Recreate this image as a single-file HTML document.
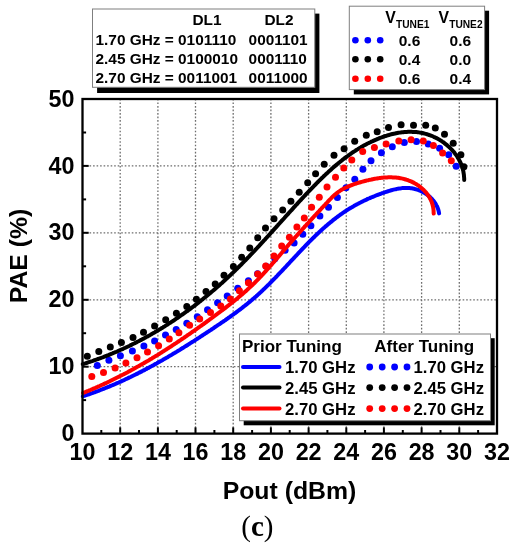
<!DOCTYPE html>
<html><head><meta charset="utf-8"><title>PAE vs Pout</title>
<style>html,body{margin:0;padding:0;background:#fff}svg{display:block}</style></head>
<body>
<svg width="518" height="550" viewBox="0 0 518 550">
<rect width="518" height="550" fill="#fff"/>
<g stroke="#6e6e6e" stroke-width="1.3" stroke-dasharray="1.6 1.92" fill="none">
<line x1="120.2" y1="99.0" x2="120.2" y2="433.6"/>
<line x1="157.9" y1="99.0" x2="157.9" y2="433.6"/>
<line x1="195.5" y1="99.0" x2="195.5" y2="433.6"/>
<line x1="233.2" y1="99.0" x2="233.2" y2="433.6"/>
<line x1="270.9" y1="99.0" x2="270.9" y2="433.6"/>
<line x1="308.6" y1="99.0" x2="308.6" y2="433.6"/>
<line x1="346.3" y1="99.0" x2="346.3" y2="433.6"/>
<line x1="383.9" y1="99.0" x2="383.9" y2="433.6"/>
<line x1="421.6" y1="99.0" x2="421.6" y2="433.6"/>
<line x1="459.3" y1="99.0" x2="459.3" y2="433.6"/>
<line x1="82.5" y1="366.7" x2="497.0" y2="366.7"/>
<line x1="82.5" y1="299.8" x2="497.0" y2="299.8"/>
<line x1="82.5" y1="232.8" x2="497.0" y2="232.8"/>
<line x1="82.5" y1="165.9" x2="497.0" y2="165.9"/>
</g>
<path d="M82.9,396.3 L84.0,395.9 L85.0,395.6 L86.1,395.2 L87.1,394.9 L88.1,394.5 L89.2,394.2 L90.2,393.8 L91.3,393.4 L92.3,393.1 L93.3,392.7 L94.4,392.3 L95.4,392.0 L96.4,391.6 L97.4,391.2 L98.5,390.8 L99.5,390.4 L100.5,390.0 L101.5,389.6 L102.6,389.2 L103.6,388.8 L104.6,388.4 L105.6,388.0 L106.6,387.6 L107.6,387.2 L108.6,386.8 L109.7,386.4 L110.7,385.9 L111.7,385.5 L112.7,385.1 L113.7,384.7 L114.7,384.2 L115.7,383.8 L116.7,383.3 L117.7,382.9 L118.7,382.5 L119.7,382.0 L120.7,381.6 L121.7,381.1 L122.7,380.7 L123.7,380.2 L124.6,379.8 L125.6,379.3 L126.6,378.8 L127.6,378.4 L128.6,377.9 L129.6,377.4 L130.6,377.0 L131.5,376.5 L132.5,376.0 L133.5,375.5 L134.5,375.0 L135.5,374.6 L136.4,374.1 L137.4,373.6 L138.4,373.1 L139.3,372.6 L140.3,372.1 L141.3,371.6 L142.3,371.1 L143.2,370.6 L144.2,370.1 L145.2,369.6 L146.1,369.1 L147.1,368.6 L148.0,368.1 L149.0,367.6 L150.0,367.0 L150.9,366.5 L151.9,366.0 L152.8,365.5 L153.8,365.0 L154.7,364.4 L155.7,363.9 L156.6,363.4 L157.6,362.8 L158.6,362.3 L159.5,361.8 L160.4,361.2 L161.4,360.7 L162.3,360.2 L163.3,359.6 L164.2,359.1 L165.2,358.5 L166.1,358.0 L167.1,357.4 L168.0,356.9 L168.9,356.3 L169.9,355.8 L170.8,355.2 L171.8,354.7 L172.7,354.1 L173.6,353.5 L174.6,353.0 L175.5,352.4 L176.4,351.9 L177.4,351.3 L178.3,350.7 L179.2,350.2 L180.2,349.6 L181.1,349.0 L182.0,348.4 L183.0,347.9 L183.9,347.3 L184.8,346.7 L185.7,346.1 L186.7,345.6 L187.6,345.0 L188.5,344.4 L189.5,343.8 L190.4,343.2 L191.3,342.6 L192.2,342.0 L193.1,341.5 L194.1,340.9 L195.0,340.3 L195.9,339.7 L196.8,339.1 L197.7,338.5 L198.7,337.9 L199.6,337.3 L200.5,336.7 L201.4,336.1 L202.3,335.5 L203.2,334.9 L204.2,334.3 L205.1,333.7 L206.0,333.1 L206.9,332.5 L207.8,331.9 L208.7,331.3 L209.6,330.7 L210.6,330.1 L211.5,329.5 L212.4,328.9 L213.3,328.3 L214.2,327.6 L215.1,327.0 L216.0,326.4 L216.9,325.8 L217.8,325.2 L218.7,324.6 L219.7,324.0 L220.6,323.4 L221.5,322.7 L222.4,322.1 L223.3,321.5 L224.2,320.9 L225.1,320.3 L226.0,319.6 L226.9,319.0 L227.8,318.4 L228.7,317.7 L229.6,317.1 L230.5,316.5 L231.3,315.8 L232.2,315.2 L233.1,314.6 L234.0,313.9 L234.9,313.3 L235.8,312.6 L236.7,312.0 L237.5,311.3 L238.4,310.7 L239.3,310.0 L240.2,309.4 L241.0,308.7 L241.9,308.1 L242.7,307.4 L243.6,306.7 L244.5,306.0 L245.3,305.4 L246.2,304.7 L247.0,304.0 L247.9,303.3 L248.7,302.6 L249.6,301.9 L250.4,301.2 L251.2,300.5 L252.1,299.8 L252.9,299.1 L253.7,298.4 L254.5,297.7 L255.3,297.0 L256.2,296.3 L257.0,295.6 L257.8,294.8 L258.6,294.1 L259.4,293.4 L260.2,292.6 L261.0,291.9 L261.8,291.1 L262.6,290.4 L263.3,289.7 L264.1,288.9 L264.9,288.2 L265.7,287.4 L266.5,286.6 L267.2,285.9 L268.0,285.1 L268.8,284.4 L269.6,283.6 L270.3,282.8 L271.1,282.0 L271.9,281.3 L272.6,280.5 L273.4,279.7 L274.1,278.9 L274.9,278.2 L275.7,277.4 L276.4,276.6 L277.2,275.8 L277.9,275.0 L278.7,274.2 L279.4,273.4 L280.2,272.6 L280.9,271.9 L281.7,271.1 L282.4,270.3 L283.2,269.5 L283.9,268.7 L284.7,267.9 L285.4,267.1 L286.2,266.3 L286.9,265.5 L287.7,264.7 L288.4,263.9 L289.2,263.1 L289.9,262.3 L290.6,261.5 L291.4,260.7 L292.1,259.9 L292.9,259.1 L293.6,258.3 L294.4,257.5 L295.1,256.7 L295.9,255.9 L296.6,255.1 L297.4,254.3 L298.1,253.5 L298.9,252.7 L299.6,251.9 L300.4,251.1 L301.1,250.3 L301.9,249.5 L302.7,248.7 L303.4,247.9 L304.2,247.1 L304.9,246.3 L305.7,245.5 L306.5,244.7 L307.2,244.0 L308.0,243.2 L308.7,242.4 L309.5,241.6 L310.3,240.8 L311.1,240.1 L311.8,239.3 L312.6,238.5 L313.4,237.8 L314.2,237.0 L315.0,236.2 L315.7,235.5 L316.5,234.7 L317.3,234.0 L318.1,233.2 L318.9,232.5 L319.7,231.7 L320.5,231.0 L321.3,230.3 L322.1,229.5 L322.9,228.8 L323.7,228.1 L324.5,227.4 L325.3,226.6 L326.2,225.9 L327.0,225.2 L327.8,224.5 L328.6,223.8 L329.5,223.1 L330.3,222.4 L331.1,221.8 L332.0,221.1 L332.8,220.4 L333.7,219.7 L334.5,219.1 L335.4,218.4 L336.2,217.7 L337.1,217.1 L338.0,216.4 L338.8,215.8 L339.7,215.2 L340.6,214.5 L341.5,213.9 L342.3,213.3 L343.2,212.7 L344.1,212.1 L345.0,211.5 L345.9,210.9 L346.8,210.3 L347.7,209.7 L348.7,209.1 L349.6,208.6 L350.5,208.0 L351.4,207.5 L352.4,206.9 L353.3,206.4 L354.3,205.8 L355.2,205.3 L356.1,204.8 L357.1,204.2 L358.1,203.7 L359.0,203.2 L360.0,202.7 L361.0,202.2 L361.9,201.7 L362.9,201.3 L363.9,200.8 L364.9,200.3 L365.9,199.9 L366.8,199.4 L367.8,198.9 L368.8,198.5 L369.8,198.1 L370.8,197.6 L371.9,197.2 L372.9,196.8 L373.9,196.4 L374.9,196.0 L375.9,195.5 L376.9,195.1 L378.0,194.8 L379.0,194.4 L380.0,194.0 L381.1,193.6 L382.1,193.2 L383.1,192.9 L384.2,192.5 L385.2,192.2 L386.3,191.8 L387.3,191.5 L388.4,191.1 L389.4,190.8 L390.5,190.5 L391.5,190.2 L392.6,189.9 L393.7,189.6 L394.7,189.4 L395.8,189.2 L396.9,188.9 L397.9,188.7 L399.0,188.6 L400.0,188.4 L401.1,188.3 L402.2,188.1 L403.2,188.0 L404.3,188.0 L405.4,187.9 L406.4,187.9 L407.5,187.9 L408.6,188.0 L409.6,188.1 L410.7,188.2 L411.7,188.3 L412.8,188.5 L413.9,188.7 L414.9,189.0 L416.0,189.3 L417.0,189.6 L418.0,189.9 L419.1,190.3 L420.1,190.7 L421.1,191.2 L422.1,191.7 L423.1,192.2 L424.1,192.7 L425.0,193.3 L425.9,193.9 L426.9,194.5 L427.8,195.2 L428.6,195.9 L429.5,196.6 L430.3,197.3 L431.1,198.1 L431.9,198.9 L432.6,199.7 L433.3,200.5 L434.0,201.4 L434.6,202.3 L435.2,203.2 L435.8,204.1 L436.3,205.1 L436.8,206.0 L437.3,207.0 L437.7,208.0 L438.1,209.1 L438.4,210.1 L438.7,211.2 L438.9,212.3 L439.1,213.4" stroke="#0000ff" fill="none" stroke-width="4" stroke-linejoin="round" stroke-linecap="round"/>
<g fill="#0000ff">
<circle cx="97.3" cy="365.4" r="3.5"/>
<circle cx="108.9" cy="360.2" r="3.5"/>
<circle cx="120.4" cy="355.8" r="3.5"/>
<circle cx="132.4" cy="351.1" r="3.5"/>
<circle cx="143.9" cy="346.1" r="3.5"/>
<circle cx="154.6" cy="341.0" r="3.5"/>
<circle cx="165.5" cy="335.0" r="3.5"/>
<circle cx="176.2" cy="329.6" r="3.5"/>
<circle cx="186.8" cy="323.3" r="3.5"/>
<circle cx="197.3" cy="316.7" r="3.5"/>
<circle cx="207.5" cy="309.8" r="3.5"/>
<circle cx="217.6" cy="302.7" r="3.5"/>
<circle cx="227.2" cy="296.0" r="3.5"/>
<circle cx="237.7" cy="288.3" r="3.5"/>
<circle cx="248.4" cy="280.8" r="3.5"/>
<circle cx="257.5" cy="273.7" r="3.5"/>
<circle cx="266.1" cy="266.3" r="3.5"/>
<circle cx="274.8" cy="258.7" r="3.5"/>
<circle cx="285.1" cy="250.3" r="3.5"/>
<circle cx="294.1" cy="243.0" r="3.5"/>
<circle cx="302.8" cy="234.3" r="3.5"/>
<circle cx="310.9" cy="225.7" r="3.5"/>
<circle cx="319.9" cy="216.0" r="3.5"/>
<circle cx="328.5" cy="207.2" r="3.5"/>
<circle cx="337.4" cy="197.5" r="3.5"/>
<circle cx="346.0" cy="187.7" r="3.5"/>
<circle cx="354.8" cy="179.3" r="3.5"/>
<circle cx="362.9" cy="169.3" r="3.5"/>
<circle cx="371.0" cy="160.7" r="3.5"/>
<circle cx="381.4" cy="152.7" r="3.5"/>
<circle cx="392.3" cy="146.7" r="3.5"/>
<circle cx="404.3" cy="142.4" r="3.5"/>
<circle cx="416.5" cy="141.6" r="3.5"/>
<circle cx="428.2" cy="144.0" r="3.5"/>
<circle cx="439.6" cy="148.2" r="3.5"/>
<circle cx="448.7" cy="154.7" r="3.5"/>
<circle cx="456.2" cy="166.2" r="3.5"/>
</g>
<path d="M82.8,364.1 L84.0,363.7 L85.2,363.4 L86.4,363.0 L87.5,362.6 L88.7,362.2 L89.9,361.8 L91.1,361.4 L92.2,361.1 L93.4,360.7 L94.6,360.2 L95.7,359.8 L96.9,359.4 L98.0,359.0 L99.2,358.6 L100.4,358.2 L101.5,357.7 L102.7,357.3 L103.8,356.9 L105.0,356.4 L106.1,356.0 L107.2,355.5 L108.4,355.1 L109.5,354.6 L110.7,354.1 L111.8,353.7 L112.9,353.2 L114.1,352.7 L115.2,352.2 L116.3,351.8 L117.5,351.3 L118.6,350.8 L119.7,350.3 L120.8,349.8 L121.9,349.3 L123.1,348.8 L124.2,348.3 L125.3,347.8 L126.4,347.2 L127.5,346.7 L128.6,346.2 L129.7,345.7 L130.8,345.1 L131.9,344.6 L133.0,344.0 L134.1,343.5 L135.2,342.9 L136.3,342.4 L137.4,341.8 L138.5,341.3 L139.6,340.7 L140.7,340.1 L141.7,339.6 L142.8,339.0 L143.9,338.4 L145.0,337.8 L146.0,337.2 L147.1,336.6 L148.2,336.1 L149.3,335.5 L150.3,334.9 L151.4,334.2 L152.5,333.6 L153.5,333.0 L154.6,332.4 L155.6,331.8 L156.7,331.2 L157.7,330.5 L158.8,329.9 L159.8,329.3 L160.9,328.7 L161.9,328.0 L163.0,327.4 L164.0,326.7 L165.0,326.1 L166.1,325.4 L167.1,324.8 L168.1,324.1 L169.2,323.4 L170.2,322.8 L171.2,322.1 L172.2,321.4 L173.3,320.8 L174.3,320.1 L175.3,319.4 L176.3,318.7 L177.3,318.0 L178.3,317.3 L179.3,316.6 L180.3,315.9 L181.3,315.2 L182.3,314.5 L183.3,313.8 L184.3,313.1 L185.3,312.4 L186.3,311.7 L187.3,311.0 L188.3,310.3 L189.3,309.5 L190.3,308.8 L191.3,308.1 L192.2,307.3 L193.2,306.6 L194.2,305.9 L195.2,305.1 L196.1,304.4 L197.1,303.6 L198.1,302.9 L199.0,302.1 L200.0,301.4 L201.0,300.6 L201.9,299.8 L202.9,299.1 L203.8,298.3 L204.8,297.5 L205.7,296.8 L206.7,296.0 L207.6,295.2 L208.6,294.4 L209.5,293.6 L210.5,292.9 L211.4,292.1 L212.3,291.3 L213.3,290.5 L214.2,289.7 L215.1,288.9 L216.0,288.1 L217.0,287.3 L217.9,286.5 L218.8,285.7 L219.7,284.9 L220.6,284.0 L221.6,283.2 L222.5,282.4 L223.4,281.6 L224.3,280.8 L225.2,279.9 L226.1,279.1 L227.0,278.3 L227.9,277.4 L228.8,276.6 L229.7,275.8 L230.6,274.9 L231.4,274.1 L232.3,273.2 L233.2,272.4 L234.1,271.5 L235.0,270.7 L235.8,269.8 L236.7,269.0 L237.6,268.1 L238.5,267.3 L239.3,266.4 L240.2,265.5 L241.1,264.7 L241.9,263.8 L242.8,262.9 L243.6,262.1 L244.5,261.2 L245.4,260.3 L246.2,259.4 L247.1,258.6 L247.9,257.7 L248.8,256.8 L249.6,255.9 L250.5,255.0 L251.3,254.1 L252.1,253.3 L253.0,252.4 L253.8,251.5 L254.7,250.6 L255.5,249.7 L256.3,248.8 L257.2,247.9 L258.0,247.0 L258.9,246.1 L259.7,245.2 L260.5,244.3 L261.3,243.4 L262.2,242.5 L263.0,241.6 L263.8,240.7 L264.7,239.8 L265.5,238.9 L266.3,238.0 L267.1,237.1 L268.0,236.2 L268.8,235.3 L269.6,234.4 L270.4,233.4 L271.3,232.5 L272.1,231.6 L272.9,230.7 L273.7,229.8 L274.5,228.9 L275.4,228.0 L276.2,227.1 L277.0,226.2 L277.8,225.3 L278.6,224.3 L279.5,223.4 L280.3,222.5 L281.1,221.6 L281.9,220.7 L282.7,219.8 L283.6,218.9 L284.4,218.0 L285.2,217.0 L286.0,216.1 L286.9,215.2 L287.7,214.3 L288.5,213.4 L289.3,212.5 L290.1,211.6 L291.0,210.7 L291.8,209.8 L292.6,208.9 L293.4,207.9 L294.3,207.0 L295.1,206.1 L295.9,205.2 L296.8,204.3 L297.6,203.4 L298.4,202.5 L299.2,201.6 L300.1,200.7 L300.9,199.8 L301.7,198.9 L302.6,198.0 L303.4,197.1 L304.3,196.2 L305.1,195.3 L305.9,194.4 L306.8,193.5 L307.6,192.6 L308.5,191.7 L309.3,190.8 L310.2,190.0 L311.0,189.1 L311.9,188.2 L312.7,187.3 L313.6,186.4 L314.4,185.5 L315.3,184.7 L316.1,183.8 L317.0,182.9 L317.9,182.0 L318.7,181.2 L319.6,180.3 L320.5,179.4 L321.4,178.6 L322.2,177.7 L323.1,176.9 L324.0,176.0 L324.9,175.2 L325.8,174.3 L326.7,173.5 L327.6,172.7 L328.5,171.8 L329.4,171.0 L330.3,170.2 L331.2,169.4 L332.1,168.6 L333.0,167.7 L333.9,166.9 L334.9,166.1 L335.8,165.4 L336.7,164.6 L337.7,163.8 L338.6,163.0 L339.6,162.2 L340.5,161.5 L341.5,160.7 L342.4,159.9 L343.4,159.2 L344.4,158.4 L345.3,157.7 L346.3,157.0 L347.3,156.3 L348.3,155.5 L349.3,154.8 L350.3,154.1 L351.3,153.4 L352.3,152.7 L353.3,152.0 L354.3,151.4 L355.4,150.7 L356.4,150.0 L357.4,149.4 L358.5,148.7 L359.5,148.1 L360.6,147.5 L361.7,146.8 L362.7,146.2 L363.8,145.6 L364.9,145.0 L366.0,144.4 L367.1,143.8 L368.2,143.3 L369.3,142.7 L370.4,142.2 L371.5,141.6 L372.7,141.1 L373.8,140.6 L374.9,140.1 L376.1,139.6 L377.2,139.1 L378.4,138.6 L379.5,138.1 L380.7,137.7 L381.9,137.3 L383.0,136.8 L384.2,136.4 L385.4,136.0 L386.6,135.7 L387.7,135.3 L388.9,135.0 L390.1,134.6 L391.3,134.3 L392.5,134.0 L393.7,133.7 L394.9,133.5 L396.1,133.2 L397.3,133.0 L398.4,132.8 L399.6,132.6 L400.8,132.4 L402.0,132.3 L403.2,132.2 L404.4,132.0 L405.6,132.0 L406.8,131.9 L408.0,131.8 L409.2,131.8 L410.4,131.8 L411.6,131.8 L412.8,131.9 L414.0,131.9 L415.2,132.0 L416.4,132.1 L417.6,132.2 L418.7,132.4 L419.9,132.6 L421.1,132.8 L422.3,133.0 L423.4,133.3 L424.6,133.6 L425.8,133.9 L426.9,134.2 L428.1,134.6 L429.2,135.0 L430.4,135.4 L431.5,135.8 L432.6,136.3 L433.7,136.8 L434.9,137.3 L436.0,137.9 L437.1,138.4 L438.1,139.0 L439.2,139.6 L440.3,140.3 L441.3,140.9 L442.3,141.6 L443.4,142.3 L444.4,143.1 L445.3,143.8 L446.3,144.6 L447.3,145.4 L448.2,146.2 L449.1,147.0 L450.0,147.9 L450.9,148.8 L451.7,149.6 L452.6,150.6 L453.4,151.5 L454.2,152.4 L454.9,153.4 L455.7,154.4 L456.4,155.4 L457.1,156.4 L457.7,157.5 L458.4,158.5 L459.0,159.6 L459.5,160.7 L460.1,161.8 L460.6,162.9 L461.1,164.0 L461.5,165.2 L462.0,166.3 L462.3,167.5 L462.7,168.7 L463.0,169.9 L463.3,171.1 L463.5,172.3 L463.7,173.6 L463.9,174.8 L464.0,176.1 L464.1,177.3 L464.2,178.6 L464.2,179.9" stroke="#000" fill="none" stroke-width="4" stroke-linejoin="round" stroke-linecap="round"/>
<g fill="#000">
<circle cx="87.3" cy="356.3" r="3.5"/>
<circle cx="98.8" cy="351.5" r="3.5"/>
<circle cx="110.3" cy="347.1" r="3.5"/>
<circle cx="121.4" cy="342.4" r="3.5"/>
<circle cx="133.0" cy="337.4" r="3.5"/>
<circle cx="143.5" cy="332.2" r="3.5"/>
<circle cx="154.6" cy="326.0" r="3.5"/>
<circle cx="165.7" cy="319.7" r="3.5"/>
<circle cx="176.4" cy="313.3" r="3.5"/>
<circle cx="186.8" cy="306.4" r="3.5"/>
<circle cx="196.4" cy="299.3" r="3.5"/>
<circle cx="206.0" cy="291.5" r="3.5"/>
<circle cx="215.2" cy="284.0" r="3.5"/>
<circle cx="224.0" cy="275.3" r="3.5"/>
<circle cx="233.4" cy="266.4" r="3.5"/>
<circle cx="241.7" cy="257.3" r="3.5"/>
<circle cx="249.8" cy="248.0" r="3.5"/>
<circle cx="257.7" cy="237.7" r="3.5"/>
<circle cx="265.5" cy="228.0" r="3.5"/>
<circle cx="274.0" cy="218.7" r="3.5"/>
<circle cx="282.7" cy="210.0" r="3.5"/>
<circle cx="290.9" cy="201.3" r="3.5"/>
<circle cx="299.2" cy="192.3" r="3.5"/>
<circle cx="307.7" cy="182.7" r="3.5"/>
<circle cx="315.6" cy="173.7" r="3.5"/>
<circle cx="324.2" cy="164.3" r="3.5"/>
<circle cx="334.0" cy="155.3" r="3.5"/>
<circle cx="344.1" cy="148.7" r="3.5"/>
<circle cx="354.7" cy="141.3" r="3.5"/>
<circle cx="366.3" cy="135.3" r="3.5"/>
<circle cx="377.2" cy="131.7" r="3.5"/>
<circle cx="388.5" cy="127.5" r="3.5"/>
<circle cx="401.1" cy="124.7" r="3.5"/>
<circle cx="413.5" cy="125.3" r="3.5"/>
<circle cx="425.7" cy="125.3" r="3.5"/>
<circle cx="435.3" cy="128.0" r="3.5"/>
<circle cx="444.5" cy="134.3" r="3.5"/>
<circle cx="453.2" cy="143.3" r="3.5"/>
<circle cx="460.9" cy="154.7" r="3.5"/>
<circle cx="463.9" cy="166.7" r="3.5"/>
</g>
<path d="M83.1,392.9 L84.1,392.5 L85.2,392.1 L86.2,391.7 L87.2,391.2 L88.3,390.8 L89.3,390.4 L90.3,390.0 L91.4,389.5 L92.4,389.1 L93.4,388.6 L94.5,388.2 L95.5,387.8 L96.5,387.3 L97.5,386.9 L98.6,386.4 L99.6,386.0 L100.6,385.5 L101.6,385.0 L102.6,384.6 L103.7,384.1 L104.7,383.6 L105.7,383.2 L106.7,382.7 L107.7,382.2 L108.7,381.7 L109.7,381.3 L110.7,380.8 L111.7,380.3 L112.7,379.8 L113.7,379.3 L114.7,378.8 L115.7,378.3 L116.7,377.8 L117.7,377.3 L118.7,376.8 L119.7,376.3 L120.7,375.8 L121.7,375.3 L122.7,374.8 L123.7,374.3 L124.7,373.7 L125.7,373.2 L126.7,372.7 L127.7,372.2 L128.6,371.6 L129.6,371.1 L130.6,370.6 L131.6,370.0 L132.6,369.5 L133.5,369.0 L134.5,368.4 L135.5,367.9 L136.5,367.3 L137.4,366.8 L138.4,366.3 L139.4,365.7 L140.4,365.1 L141.3,364.6 L142.3,364.0 L143.3,363.5 L144.2,362.9 L145.2,362.4 L146.2,361.8 L147.1,361.2 L148.1,360.7 L149.1,360.1 L150.0,359.5 L151.0,358.9 L151.9,358.4 L152.9,357.8 L153.8,357.2 L154.8,356.6 L155.8,356.0 L156.7,355.5 L157.7,354.9 L158.6,354.3 L159.6,353.7 L160.5,353.1 L161.5,352.5 L162.4,351.9 L163.3,351.3 L164.3,350.7 L165.2,350.1 L166.2,349.5 L167.1,348.9 L168.1,348.3 L169.0,347.7 L169.9,347.1 L170.9,346.5 L171.8,345.9 L172.8,345.2 L173.7,344.6 L174.6,344.0 L175.6,343.4 L176.5,342.8 L177.4,342.2 L178.4,341.5 L179.3,340.9 L180.2,340.3 L181.1,339.7 L182.1,339.0 L183.0,338.4 L183.9,337.8 L184.8,337.1 L185.8,336.5 L186.7,335.9 L187.6,335.2 L188.5,334.6 L189.5,334.0 L190.4,333.3 L191.3,332.7 L192.2,332.0 L193.1,331.4 L194.1,330.8 L195.0,330.1 L195.9,329.5 L196.8,328.8 L197.7,328.2 L198.6,327.5 L199.5,326.9 L200.5,326.2 L201.4,325.6 L202.3,324.9 L203.2,324.3 L204.1,323.6 L205.0,323.0 L205.9,322.3 L206.8,321.6 L207.7,321.0 L208.6,320.3 L209.5,319.7 L210.4,319.0 L211.3,318.3 L212.2,317.7 L213.1,317.0 L214.0,316.3 L214.9,315.7 L215.8,315.0 L216.7,314.3 L217.6,313.7 L218.5,313.0 L219.4,312.3 L220.3,311.7 L221.2,311.0 L222.1,310.3 L223.0,309.6 L223.9,309.0 L224.8,308.3 L225.7,307.6 L226.6,306.9 L227.5,306.2 L228.3,305.5 L229.2,304.9 L230.1,304.2 L231.0,303.5 L231.8,302.8 L232.7,302.1 L233.6,301.4 L234.5,300.7 L235.3,300.0 L236.2,299.3 L237.1,298.6 L237.9,297.9 L238.8,297.1 L239.6,296.4 L240.5,295.7 L241.3,295.0 L242.2,294.3 L243.0,293.5 L243.9,292.8 L244.7,292.1 L245.5,291.3 L246.4,290.6 L247.2,289.8 L248.0,289.1 L248.8,288.3 L249.6,287.6 L250.5,286.8 L251.3,286.1 L252.1,285.3 L252.9,284.5 L253.7,283.7 L254.5,283.0 L255.3,282.2 L256.0,281.4 L256.8,280.6 L257.6,279.8 L258.4,279.0 L259.2,278.2 L259.9,277.4 L260.7,276.6 L261.5,275.8 L262.2,275.0 L263.0,274.2 L263.7,273.3 L264.5,272.5 L265.3,271.7 L266.0,270.9 L266.8,270.0 L267.5,269.2 L268.3,268.4 L269.0,267.5 L269.7,266.7 L270.5,265.9 L271.2,265.0 L272.0,264.2 L272.7,263.3 L273.4,262.5 L274.2,261.7 L274.9,260.8 L275.6,260.0 L276.4,259.1 L277.1,258.3 L277.8,257.4 L278.6,256.6 L279.3,255.7 L280.0,254.9 L280.8,254.0 L281.5,253.1 L282.2,252.3 L282.9,251.4 L283.7,250.6 L284.4,249.7 L285.1,248.9 L285.9,248.0 L286.6,247.2 L287.3,246.3 L288.1,245.5 L288.8,244.6 L289.5,243.8 L290.3,242.9 L291.0,242.1 L291.8,241.2 L292.5,240.4 L293.2,239.5 L294.0,238.7 L294.7,237.8 L295.5,237.0 L296.2,236.2 L297.0,235.3 L297.7,234.5 L298.5,233.6 L299.2,232.8 L300.0,232.0 L300.7,231.1 L301.5,230.3 L302.2,229.5 L303.0,228.6 L303.7,227.8 L304.5,227.0 L305.2,226.1 L306.0,225.3 L306.8,224.5 L307.5,223.6 L308.3,222.8 L309.0,222.0 L309.8,221.1 L310.5,220.3 L311.3,219.5 L312.1,218.7 L312.8,217.8 L313.6,217.0 L314.3,216.2 L315.1,215.4 L315.9,214.6 L316.6,213.7 L317.4,212.9 L318.1,212.1 L318.9,211.3 L319.7,210.5 L320.4,209.6 L321.2,208.8 L321.9,208.0 L322.7,207.2 L323.5,206.4 L324.2,205.6 L325.0,204.8 L325.7,203.9 L326.5,203.1 L327.3,202.3 L328.0,201.5 L328.8,200.7 L329.5,199.9 L330.3,199.1 L331.1,198.3 L331.8,197.5 L332.6,196.8 L333.4,196.0 L334.2,195.3 L335.0,194.6 L335.9,193.9 L336.7,193.2 L337.6,192.5 L338.4,191.9 L339.3,191.3 L340.2,190.7 L341.1,190.1 L342.0,189.5 L343.0,189.0 L343.9,188.5 L344.9,188.0 L345.9,187.5 L346.9,187.1 L347.9,186.6 L348.9,186.2 L349.9,185.8 L350.9,185.4 L352.0,185.0 L353.0,184.6 L354.1,184.2 L355.1,183.9 L356.2,183.5 L357.2,183.2 L358.3,182.8 L359.4,182.5 L360.5,182.2 L361.6,181.9 L362.7,181.6 L363.8,181.3 L364.8,181.0 L365.9,180.7 L367.1,180.4 L368.2,180.2 L369.3,179.9 L370.4,179.7 L371.5,179.5 L372.6,179.2 L373.7,179.0 L374.8,178.8 L376.0,178.6 L377.1,178.5 L378.2,178.3 L379.3,178.1 L380.4,178.0 L381.6,177.8 L382.7,177.7 L383.8,177.6 L384.9,177.5 L386.0,177.5 L387.1,177.4 L388.3,177.3 L389.4,177.3 L390.5,177.3 L391.6,177.3 L392.7,177.4 L393.8,177.4 L394.9,177.5 L396.0,177.6 L397.1,177.7 L398.2,177.8 L399.3,178.0 L400.4,178.2 L401.5,178.4 L402.5,178.6 L403.6,178.9 L404.7,179.2 L405.8,179.5 L406.8,179.8 L407.9,180.2 L408.9,180.6 L410.0,181.0 L411.0,181.4 L412.0,181.9 L413.0,182.4 L414.0,182.9 L415.0,183.5 L416.0,184.0 L416.9,184.6 L417.9,185.2 L418.8,185.9 L419.7,186.5 L420.6,187.2 L421.4,187.9 L422.3,188.7 L423.1,189.4 L423.9,190.2 L424.6,191.0 L425.4,191.8 L426.1,192.6 L426.8,193.5 L427.5,194.4 L428.1,195.3 L428.7,196.2 L429.3,197.1 L429.8,198.1 L430.4,199.1 L430.8,200.1 L431.3,201.1 L431.7,202.1 L432.1,203.2 L432.4,204.3 L432.7,205.4 L433.0,206.5 L433.2,207.6 L433.4,208.8 L433.5,209.9 L433.6,211.1 L433.6,212.3 L433.7,213.5" stroke="#ff0000" fill="none" stroke-width="4" stroke-linejoin="round" stroke-linecap="round"/>
<g fill="#ff0000">
<circle cx="91.8" cy="376.6" r="3.5"/>
<circle cx="103.5" cy="372.4" r="3.5"/>
<circle cx="115.1" cy="367.9" r="3.5"/>
<circle cx="125.9" cy="363.1" r="3.5"/>
<circle cx="137.0" cy="357.7" r="3.5"/>
<circle cx="147.5" cy="351.9" r="3.5"/>
<circle cx="158.6" cy="345.7" r="3.5"/>
<circle cx="169.3" cy="339.0" r="3.5"/>
<circle cx="178.9" cy="332.7" r="3.5"/>
<circle cx="189.6" cy="325.3" r="3.5"/>
<circle cx="199.7" cy="319.1" r="3.5"/>
<circle cx="210.5" cy="312.4" r="3.5"/>
<circle cx="220.8" cy="306.0" r="3.5"/>
<circle cx="230.4" cy="299.0" r="3.5"/>
<circle cx="239.4" cy="290.7" r="3.5"/>
<circle cx="248.4" cy="282.7" r="3.5"/>
<circle cx="257.7" cy="274.0" r="3.5"/>
<circle cx="265.7" cy="266.0" r="3.5"/>
<circle cx="274.0" cy="256.0" r="3.5"/>
<circle cx="281.7" cy="246.0" r="3.5"/>
<circle cx="289.4" cy="237.3" r="3.5"/>
<circle cx="296.9" cy="227.0" r="3.5"/>
<circle cx="304.3" cy="218.0" r="3.5"/>
<circle cx="311.6" cy="207.3" r="3.5"/>
<circle cx="319.3" cy="197.3" r="3.5"/>
<circle cx="327.0" cy="186.9" r="3.5"/>
<circle cx="335.5" cy="177.3" r="3.5"/>
<circle cx="343.8" cy="168.0" r="3.5"/>
<circle cx="351.8" cy="160.0" r="3.5"/>
<circle cx="362.7" cy="151.6" r="3.5"/>
<circle cx="374.4" cy="147.5" r="3.5"/>
<circle cx="386.1" cy="144.0" r="3.5"/>
<circle cx="398.8" cy="141.1" r="3.5"/>
<circle cx="411.1" cy="139.7" r="3.5"/>
<circle cx="423.3" cy="141.1" r="3.5"/>
<circle cx="433.4" cy="145.5" r="3.5"/>
<circle cx="442.6" cy="153.0" r="3.5"/>
<circle cx="451.3" cy="160.8" r="3.5"/>
</g>
<rect x="82.5" y="99.0" width="414.5" height="334.6" fill="none" stroke="#000" stroke-width="2.3"/>
<g stroke="#000" stroke-width="2">
<line x1="101.3" y1="433.6" x2="101.3" y2="430.0"/>
<line x1="120.2" y1="433.6" x2="120.2" y2="427.4"/>
<line x1="139.0" y1="433.6" x2="139.0" y2="430.0"/>
<line x1="157.9" y1="433.6" x2="157.9" y2="427.4"/>
<line x1="176.7" y1="433.6" x2="176.7" y2="430.0"/>
<line x1="195.5" y1="433.6" x2="195.5" y2="427.4"/>
<line x1="214.4" y1="433.6" x2="214.4" y2="430.0"/>
<line x1="233.2" y1="433.6" x2="233.2" y2="427.4"/>
<line x1="252.1" y1="433.6" x2="252.1" y2="430.0"/>
<line x1="270.9" y1="433.6" x2="270.9" y2="427.4"/>
<line x1="289.7" y1="433.6" x2="289.7" y2="430.0"/>
<line x1="308.6" y1="433.6" x2="308.6" y2="427.4"/>
<line x1="327.4" y1="433.6" x2="327.4" y2="430.0"/>
<line x1="346.3" y1="433.6" x2="346.3" y2="427.4"/>
<line x1="365.1" y1="433.6" x2="365.1" y2="430.0"/>
<line x1="383.9" y1="433.6" x2="383.9" y2="427.4"/>
<line x1="402.8" y1="433.6" x2="402.8" y2="430.0"/>
<line x1="421.6" y1="433.6" x2="421.6" y2="427.4"/>
<line x1="440.5" y1="433.6" x2="440.5" y2="430.0"/>
<line x1="459.3" y1="433.6" x2="459.3" y2="427.4"/>
<line x1="478.1" y1="433.6" x2="478.1" y2="430.0"/>
<line x1="82.5" y1="400.1" x2="86.1" y2="400.1"/>
<line x1="82.5" y1="366.7" x2="88.7" y2="366.7"/>
<line x1="82.5" y1="333.2" x2="86.1" y2="333.2"/>
<line x1="82.5" y1="299.8" x2="88.7" y2="299.8"/>
<line x1="82.5" y1="266.3" x2="86.1" y2="266.3"/>
<line x1="82.5" y1="232.8" x2="88.7" y2="232.8"/>
<line x1="82.5" y1="199.4" x2="86.1" y2="199.4"/>
<line x1="82.5" y1="165.9" x2="88.7" y2="165.9"/>
<line x1="82.5" y1="132.5" x2="86.1" y2="132.5"/>
</g>
<g font-family="'Liberation Sans', Arial, sans-serif" font-weight="bold" font-size="23.3" fill="#000">
<text x="82.5" y="460" text-anchor="middle">10</text>
<text x="120.2" y="460" text-anchor="middle">12</text>
<text x="157.9" y="460" text-anchor="middle">14</text>
<text x="195.5" y="460" text-anchor="middle">16</text>
<text x="233.2" y="460" text-anchor="middle">18</text>
<text x="270.9" y="460" text-anchor="middle">20</text>
<text x="308.6" y="460" text-anchor="middle">22</text>
<text x="346.3" y="460" text-anchor="middle">24</text>
<text x="383.9" y="460" text-anchor="middle">26</text>
<text x="421.6" y="460" text-anchor="middle">28</text>
<text x="459.3" y="460" text-anchor="middle">30</text>
<text x="497.0" y="460" text-anchor="middle">32</text>
<text x="74.5" y="440.6" text-anchor="end">0</text>
<text x="74.5" y="373.9" text-anchor="end">10</text>
<text x="74.5" y="307.2" text-anchor="end">20</text>
<text x="74.5" y="240.4" text-anchor="end">30</text>
<text x="74.5" y="173.7" text-anchor="end">40</text>
<text x="74.5" y="107.0" text-anchor="end">50</text>
</g>
<g font-family="'Liberation Sans', Arial, sans-serif" font-weight="bold" font-size="24.8" fill="#000">
<text x="289.5" y="499.3" text-anchor="middle">Pout (dBm)</text>
<text transform="translate(26.6,256) rotate(-90)" text-anchor="middle">PAE (%)</text>
</g>
<text x="241.3" y="535.8" font-family="'Liberation Serif', serif" font-size="29" fill="#000">(<tspan font-weight="bold">c</tspan>)</text>
<rect x="243.7" y="338.2" width="251.0" height="87.09999999999998" fill="#000"/>
<rect x="239.5" y="334" width="251.0" height="86.69999999999999" fill="#fff" stroke="#7f7f7f" stroke-width="1"/>
<g font-family="'Liberation Sans', Arial, sans-serif" font-weight="bold" font-size="17" fill="#000">
<text x="242" y="352">Prior Tuning</text>
<text x="374.3" y="352">After Tuning</text>
<line x1="243" y1="367" x2="279.5" y2="367" stroke="#0000ff" stroke-width="4" stroke-linecap="round"/>
<text x="285" y="373" font-size="16.7">1.70 GHz</text>
<circle cx="369.7" cy="367" r="3.4" fill="#0000ff"/>
<circle cx="382.2" cy="367" r="3.4" fill="#0000ff"/>
<circle cx="394.6" cy="367" r="3.4" fill="#0000ff"/>
<circle cx="407" cy="367" r="3.4" fill="#0000ff"/>
<text x="413.5" y="373" font-size="16.7">1.70 GHz</text>
<line x1="243" y1="387.6" x2="279.5" y2="387.6" stroke="#000" stroke-width="4" stroke-linecap="round"/>
<text x="285" y="393.6" font-size="16.7">2.45 GHz</text>
<circle cx="369.7" cy="387.6" r="3.4" fill="#000"/>
<circle cx="382.2" cy="387.6" r="3.4" fill="#000"/>
<circle cx="394.6" cy="387.6" r="3.4" fill="#000"/>
<circle cx="407" cy="387.6" r="3.4" fill="#000"/>
<text x="413.5" y="393.6" font-size="16.7">2.45 GHz</text>
<line x1="243" y1="408.6" x2="279.5" y2="408.6" stroke="#ff0000" stroke-width="4" stroke-linecap="round"/>
<text x="285" y="414.6" font-size="16.7">2.70 GHz</text>
<circle cx="369.7" cy="408.6" r="3.4" fill="#ff0000"/>
<circle cx="382.2" cy="408.6" r="3.4" fill="#ff0000"/>
<circle cx="394.6" cy="408.6" r="3.4" fill="#ff0000"/>
<circle cx="407" cy="408.6" r="3.4" fill="#ff0000"/>
<text x="413.5" y="414.6" font-size="16.7">2.70 GHz</text>
</g>
<rect x="97.1" y="13.6" width="222.3" height="79.4" fill="#000"/>
<rect x="92.5" y="9" width="222.3" height="78.3" fill="#fff" stroke="#7f7f7f" stroke-width="1"/>
<g font-family="'Liberation Sans', Arial, sans-serif" font-weight="bold" font-size="15.4" fill="#000">
<text x="192.5" y="25">DL1</text><text x="264.5" y="25">DL2</text>
<text x="95.5" y="44.7">1.70 GHz = 0101110</text><text x="248.6" y="44.7">0001101</text>
<text x="95.5" y="64">2.45 GHz = 0100010</text><text x="248.6" y="64">0001110</text>
<text x="95.5" y="83.3">2.70 GHz = 0011001</text><text x="248.6" y="83.3">0011000</text>
</g>
<rect x="353.8" y="10.7" width="135.3" height="83.69999999999999" fill="#000"/>
<rect x="349.3" y="6.2" width="135.3" height="83.39999999999999" fill="#fff" stroke="#7f7f7f" stroke-width="1"/>
<g font-family="'Liberation Sans', Arial, sans-serif" font-weight="bold" font-size="15.5" fill="#000">
<text x="385.3" y="22.8" font-size="15.8">V</text><text x="396" y="27.5" font-size="10.2">TUNE1</text>
<text x="438.4" y="22.8" font-size="15.8">V</text><text x="449.2" y="27.5" font-size="10.2">TUNE2</text>
<circle cx="355.4" cy="40.2" r="3.3" fill="#0000ff"/>
<circle cx="367.8" cy="40.2" r="3.3" fill="#0000ff"/>
<circle cx="380.2" cy="40.2" r="3.3" fill="#0000ff"/>
<text x="409.5" y="45.7" text-anchor="middle">0.6</text><text x="460.3" y="45.7" text-anchor="middle">0.6</text>
<circle cx="355.4" cy="59.3" r="3.3" fill="#000"/>
<circle cx="367.8" cy="59.3" r="3.3" fill="#000"/>
<circle cx="380.2" cy="59.3" r="3.3" fill="#000"/>
<text x="409.5" y="64.8" text-anchor="middle">0.4</text><text x="460.3" y="64.8" text-anchor="middle">0.0</text>
<circle cx="355.4" cy="78.8" r="3.3" fill="#ff0000"/>
<circle cx="367.8" cy="78.8" r="3.3" fill="#ff0000"/>
<circle cx="380.2" cy="78.8" r="3.3" fill="#ff0000"/>
<text x="409.5" y="84.3" text-anchor="middle">0.6</text><text x="460.3" y="84.3" text-anchor="middle">0.4</text>
</g>
</svg>
</body></html>
